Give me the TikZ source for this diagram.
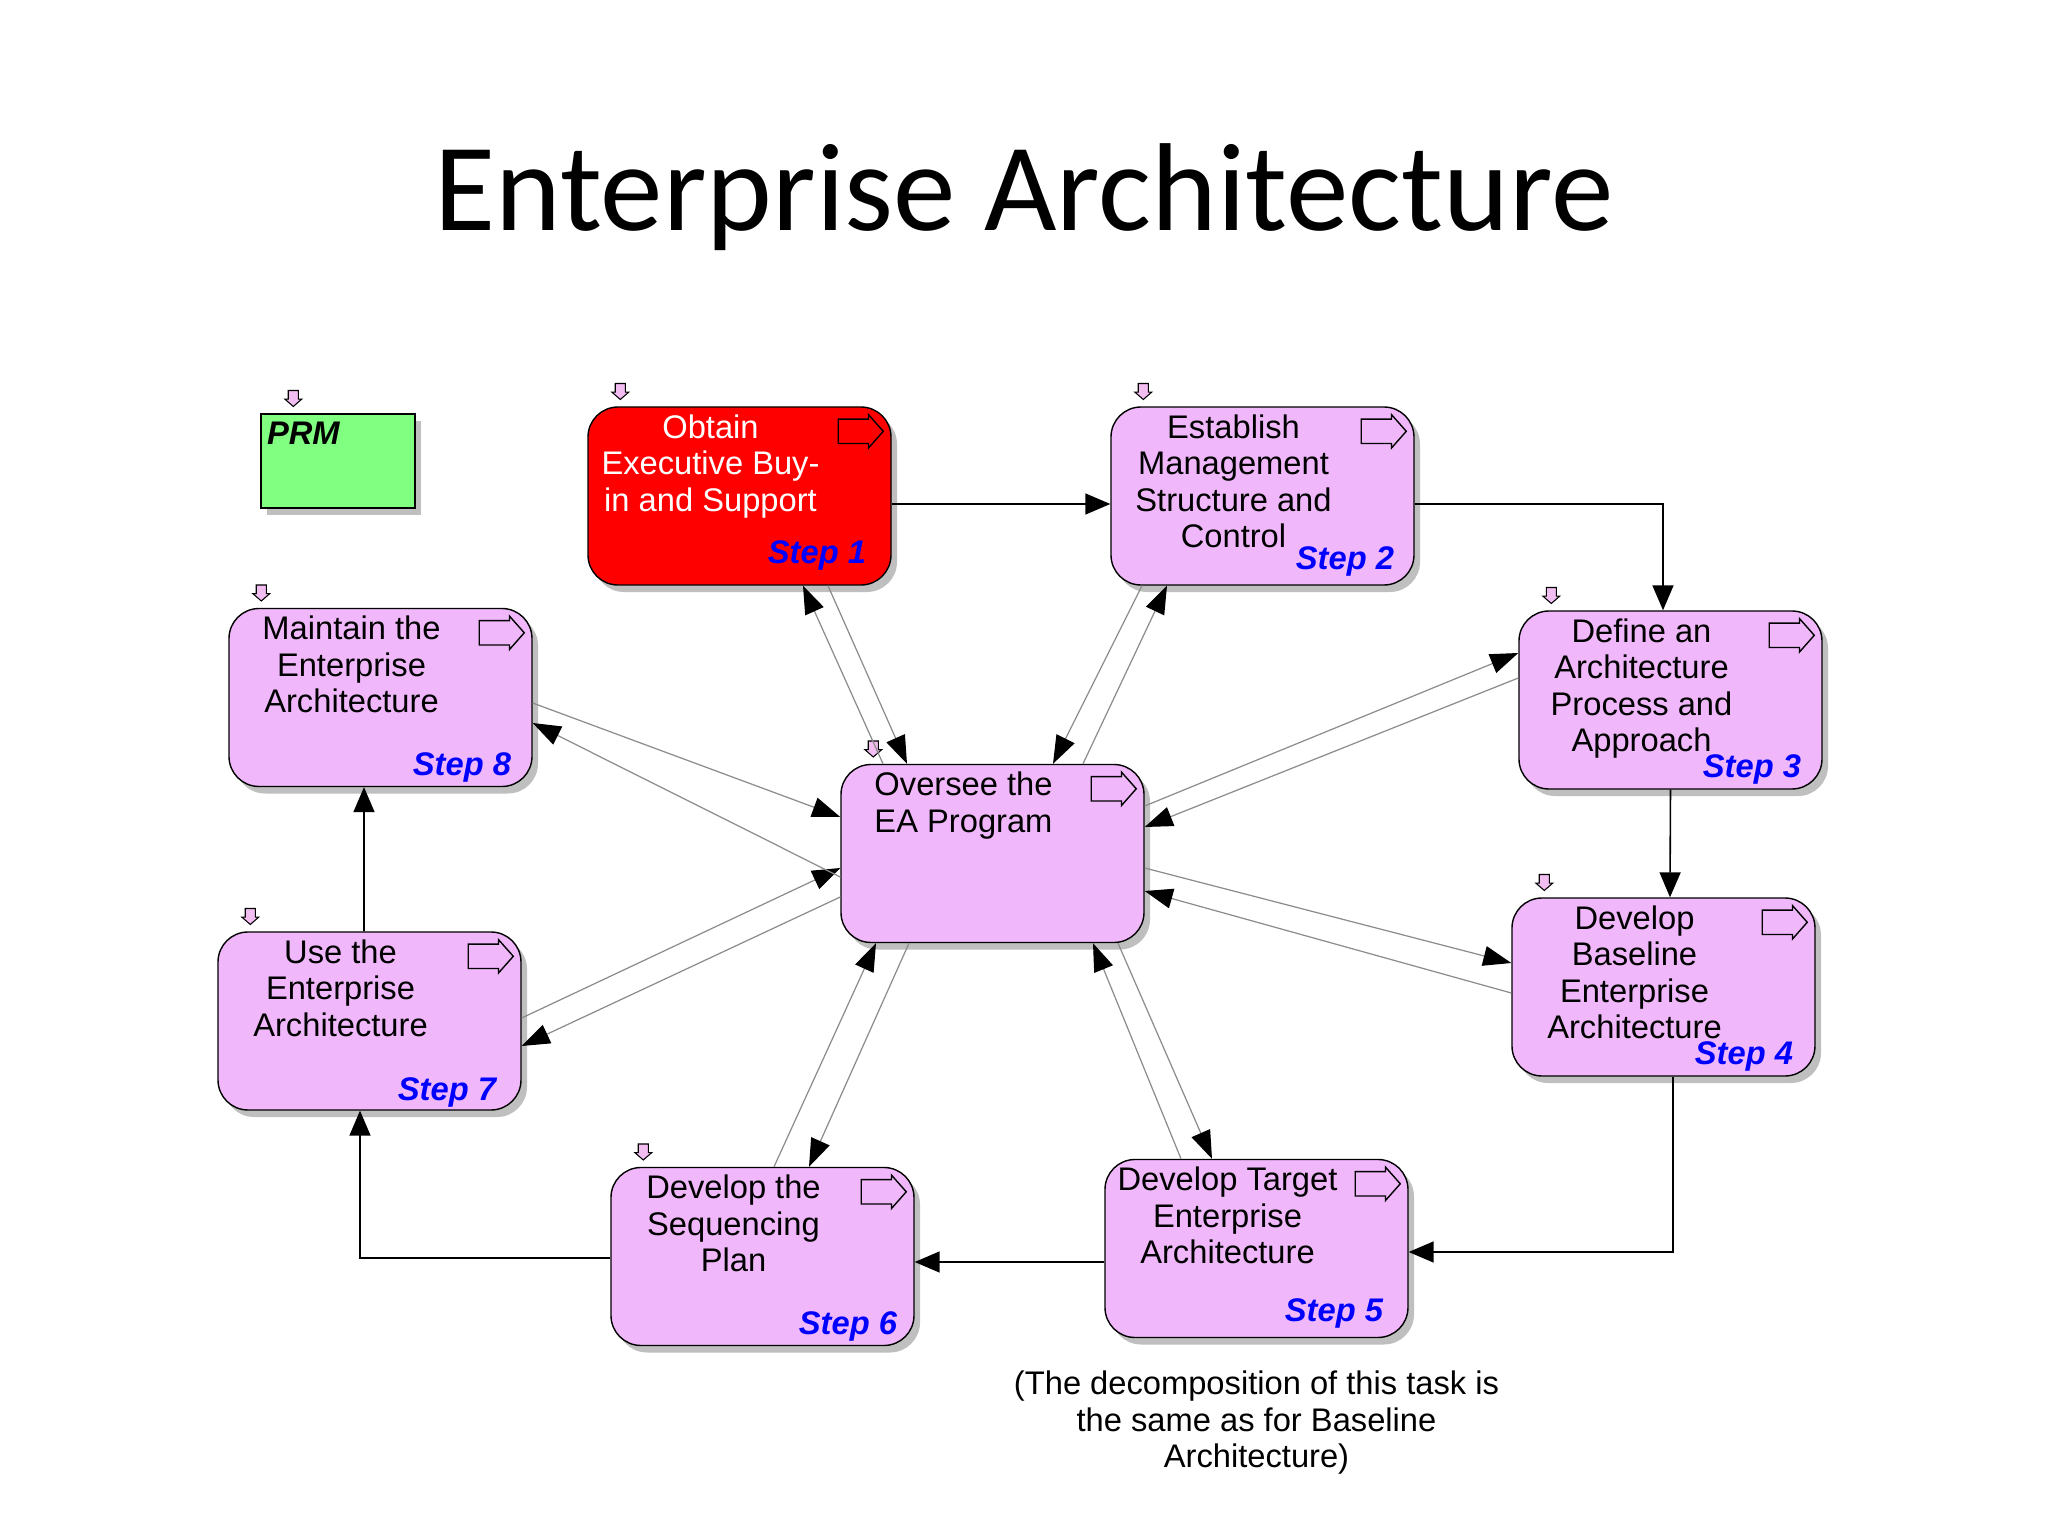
\documentclass[tikz,border=0pt]{standalone}
\usepackage{fontspec}
\setmainfont{Liberation Sans}
\newfontfamily\titlefont{Carlito}
\usepackage{tikz}
\usetikzlibrary{positioning}
\usetikzlibrary{shapes,shapes.geometric,shapes.arrows,shadows,arrows.meta}
\definecolor{stepfill}{RGB}{240,184,250}
\definecolor{prmfill}{RGB}{128,255,128}
\definecolor{markfill}{RGB}{242,190,242}
\newcommand{\boxfont}{\fontsize{9.3}{10.4}\selectfont}
\tikzstyle{boxshadow} = [drop shadow={shadow xshift=0.06cm, shadow yshift=-0.07cm, fill=black!25, opacity=1}]
\tikzstyle{stepbox} = [rectangle, draw, rounded corners=0.3cm, minimum width=3.03cm, minimum height=1.78cm, inner sep=0pt, fill=stepfill, boxshadow]
\tikzstyle{prmbox} = [rectangle, draw, minimum width=1.54cm, minimum height=0.94cm, inner sep=0pt, fill=prmfill, boxshadow]
\tikzstyle{boxtext} = [align=center, inner sep=0pt, anchor=north, font=\boxfont]
\tikzstyle{steplabel} = [anchor=base east, inner sep=0pt, text=blue, font=\boxfont\bfseries\itshape]
\tikzstyle{icon} = [single arrow, draw, line width=0.4pt, inner sep=0.115cm, minimum height=0.45cm, single arrow head extend=0.045cm, single arrow tip angle=97, anchor=tip]
\tikzstyle{tinyarrow} = [single arrow, draw, line width=0.3pt, fill=markfill, inner sep=0.045cm, minimum height=0.16cm, single arrow head extend=0.035cm, single arrow tip angle=98, shape border rotate=270]
\tikzstyle{flow} = [draw, line width=0.45pt, -{Triangle[length=0.25cm, width=0.21cm]}]
\tikzstyle{link} = [draw, black!45, line width=0.35pt, -{Triangle[length=0.28cm, width=0.2cm, color=black]}]

\begin{document}
\begin{tikzpicture}
	\useasboundingbox (0,0) rectangle (20.48,-15.36);

	% title node
	\node [anchor=base, inner sep=0pt, font=\titlefont\fontsize{35.6}{42}\selectfont] (title) at (10.24,-2.31) {Enterprise Architecture};

	% place nodes
	\node [prmbox] (prm) at (3.38,-4.61) {};
	\node [stepbox, fill=red] (s1) at (7.395,-4.96) {};
	\node [stepbox] (s2) at (12.625,-4.96) {};
	\node [stepbox] (s3) at (16.705,-7.00) {};
	\node [stepbox] (s4) at (16.635,-9.87) {};
	\node [stepbox] (s5) at (12.565,-12.485) {};
	\node [stepbox] (s6) at (7.625,-12.565) {};
	\node [stepbox] (s7) at (3.695,-10.21) {};
	\node [stepbox] (s8) at (3.805,-6.975) {};
	\node [stepbox] (ea) at (9.925,-8.535) {};

	% box texts
	\node [anchor=base west, inner sep=0pt, font=\boxfont\bfseries\itshape] (prmtext) at ([shift={(0.06,-0.31)}]prm.north west) {PRM};
	\node [boxtext, text=white] (t1) at ([shift={(-0.29,-0.075)}]s1.north) {Obtain\\Executive Buy-\\in and Support};
	\node [boxtext] (t2) at ([shift={(-0.29,-0.075)}]s2.north) {Establish\\Management\\Structure and\\Control};
	\node [boxtext] (t3) at ([shift={(-0.29,-0.075)}]s3.north) {Define an\\Architecture\\Process and\\Approach};
	\node [boxtext] (t4) at ([shift={(-0.29,-0.075)}]s4.north) {Develop\\Baseline\\Enterprise\\Architecture};
	\node [boxtext] (t5) at ([shift={(-0.29,-0.075)}]s5.north) {Develop Target\\Enterprise\\Architecture};
	\node [boxtext] (t6) at ([shift={(-0.29,-0.075)}]s6.north) {Develop the\\Sequencing\\Plan};
	\node [boxtext] (t7) at ([shift={(-0.29,-0.075)}]s7.north) {Use the\\Enterprise\\Architecture};
	\node [boxtext] (t8) at ([shift={(-0.29,-0.075)}]s8.north) {Maintain the\\Enterprise\\Architecture};
	\node [boxtext] (tea) at ([shift={(-0.29,-0.075)}]ea.north) {Oversee the\\EA Program};

	% step labels
	\node [steplabel] (l1) at ([shift={(-0.25,0.22)}]s1.south east) {Step 1};
	\node [steplabel] (l2) at ([shift={(-0.20,0.16)}]s2.south east) {Step 2};
	\node [steplabel] (l3) at ([shift={(-0.21,0.12)}]s3.south east) {Step 3};
	\node [steplabel] (l4) at ([shift={(-0.22,0.12)}]s4.south east) {Step 4};
	\node [steplabel] (l5) at ([shift={(-0.25,0.17)}]s5.south east) {Step 5};
	\node [steplabel] (l6) at ([shift={(-0.17,0.12)}]s6.south east) {Step 6};
	\node [steplabel] (l7) at ([shift={(-0.25,0.10)}]s7.south east) {Step 7};
	\node [steplabel] (l8) at ([shift={(-0.21,0.12)}]s8.south east) {Step 8};

	% icons
	\foreach \n in {s1,s2,s3,s4,s5,s6,s7,s8,ea}
		\node [icon] (i\n) at ([shift={(-0.075,-0.25)}]\n.north east) {};
	\foreach \n in {prm,s1,s2,s3,s4,s6,s7,s8,ea}
		\node [tinyarrow] (d\n) at ([shift={(0.33,0.17)}]\n.north west) {};

	% note
	\node [boxtext, below=0.32cm of s5] (note) {(The decomposition of this task is\\the same as for Baseline\\Architecture)};

	% draw edges
	\path [flow] ([yshift=-0.08cm]s1.east) -- ([yshift=-0.08cm]s2.west);
	\path [flow] ([yshift=-0.08cm]s2.east) -| ([xshift=-0.075cm]s3.north);
	\path [flow] (s3.south) -- ([xshift=0.065cm]s4.north);
	\path [flow] ([xshift=0.095cm]s4.south) |- ([yshift=-0.035cm]s5.east);
	\path [flow] ([yshift=-0.135cm]s5.west) -- ([yshift=-0.055cm]s6.east);
	\path [flow] ([yshift=-0.015cm]s6.west) -| ([xshift=-0.095cm]s7.south);
	\path [flow] ([xshift=-0.055cm]s7.north) -- ([xshift=-0.165cm]s8.south);

	\path [link] ([xshift=-1.095cm]ea.north) -- ([xshift=0.635cm]s1.south);
	\path [link] ([xshift=0.885cm]s1.south) -- ([xshift=-0.855cm]ea.north);
	\path [link] ([xshift=-1.205cm]s2.south) -- ([xshift=0.605cm]ea.north);
	\path [link] ([xshift=0.905cm]ea.north) -- ([xshift=-0.955cm]s2.south);
	\path [link] ([yshift=0.475cm]ea.east) -- ([yshift=0.47cm]s3.west);
	\path [link] ([yshift=0.22cm]s3.west) -- ([yshift=0.265cm]ea.east);
	\path [link] ([yshift=-0.145cm]ea.east) -- ([yshift=0.24cm]s4.west);
	\path [link] ([yshift=-0.06cm]s4.west) -- ([yshift=-0.375cm]ea.east);
	\path [link] ([xshift=-0.755cm]s5.north) -- ([xshift=1.005cm]ea.south);
	\path [link] ([xshift=1.255cm]ea.south) -- ([xshift=-0.445cm]s5.north);
	\path [link] ([xshift=0.115cm]s6.north) -- ([xshift=-1.165cm]ea.south);
	\path [link] ([xshift=-0.835cm]ea.south) -- ([xshift=0.465cm]s6.north);
	\path [link] ([yshift=0.03cm]s7.east) -- ([yshift=-0.145cm]ea.west);
	\path [link] ([yshift=-0.435cm]ea.west) -- ([yshift=-0.25cm]s7.east);
	\path [link] ([yshift=-0.055cm]s8.east) -- ([yshift=0.365cm]ea.west);
	\path [link] ([yshift=-0.235cm]ea.west) -- ([yshift=-0.255cm]s8.east);
\end{tikzpicture}
\end{document}
